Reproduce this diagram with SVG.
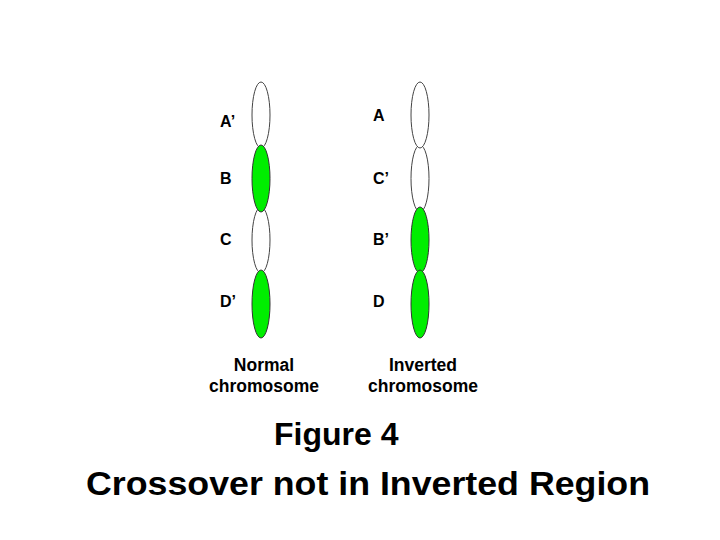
<svg xmlns="http://www.w3.org/2000/svg" width="720" height="540" viewBox="0 0 720 540">
<style>
.w{fill:#fff;stroke:#444;stroke-width:1}
.g{fill:#00ee00;stroke:#333;stroke-width:1}
.l{font-family:"Liberation Sans",Arial,sans-serif;font-weight:bold;font-size:16px;fill:#000}
.c{font-family:"Liberation Sans",Arial,sans-serif;font-weight:bold;font-size:17.5px;fill:#000;text-anchor:middle}
.t{font-family:"Liberation Sans",Arial,sans-serif;font-weight:bold;fill:#000}
</style>
<rect width="720" height="540" fill="#fff"/>
<g id="normal">
<ellipse class="w" cx="261" cy="115" rx="9" ry="33"/>
<ellipse class="w" cx="261" cy="240" rx="9" ry="33"/>
<ellipse class="g" cx="261" cy="178.5" rx="9" ry="33.5"/>
<ellipse class="g" cx="261" cy="304" rx="9" ry="34"/>
<text class="l" x="220" y="127">A’</text>
<text class="l" x="220" y="184">B</text>
<text class="l" x="220" y="245">C</text>
<text class="l" x="220" y="307">D’</text>
<text class="c" x="264" y="371">Normal</text>
<text class="c" x="264" y="392">chromosome</text>
</g>
<g id="inverted">
<ellipse class="w" cx="420" cy="178.5" rx="9" ry="33.5"/>
<ellipse class="w" cx="420" cy="115" rx="9" ry="33"/>
<ellipse class="g" cx="420" cy="240" rx="9" ry="33"/>
<ellipse class="g" cx="420" cy="304" rx="9" ry="34"/>
<text class="l" x="373" y="121">A</text>
<text class="l" x="373" y="184">C’</text>
<text class="l" x="373" y="245">B’</text>
<text class="l" x="373" y="307">D</text>
<text class="c" x="423" y="371">Inverted</text>
<text class="c" x="423" y="392">chromosome</text>
</g>
<g id="connectors"/>
<text class="t" x="274" y="445" font-size="32">Figure 4</text>
<text class="t" x="86" y="495" font-size="33" textLength="564" lengthAdjust="spacingAndGlyphs">Crossover not in Inverted Region</text>
</svg>
